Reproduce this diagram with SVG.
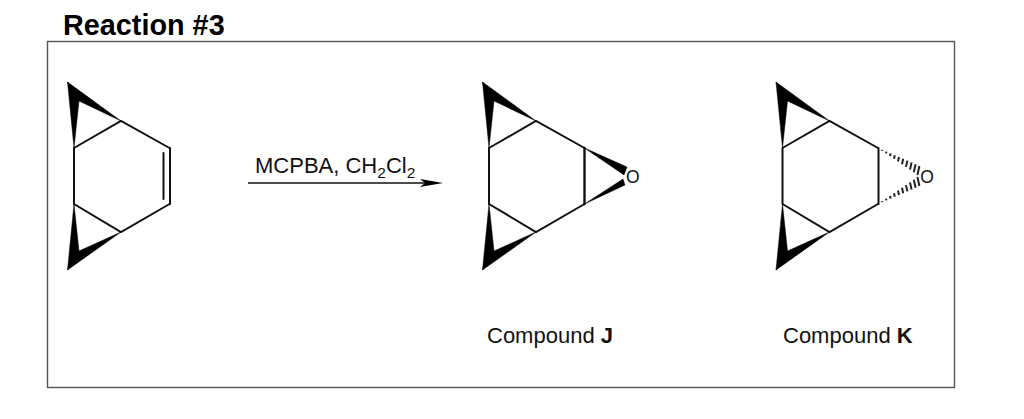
<svg xmlns="http://www.w3.org/2000/svg" width="1024" height="419" viewBox="0 0 1024 419">
<style>
.t{font-family:"Liberation Sans",Arial,sans-serif;fill:#111}
.b{fill:none;stroke:#111;stroke-width:2;stroke-linecap:round;stroke-linejoin:miter}
.w{fill:#000;stroke:#000;stroke-width:.5;stroke-linejoin:round}
.h{fill:none;stroke:#222;stroke-width:2}
</style>
<defs>
<g id="core">
<path class="b" d="M6.500 66L53.500 39L102 66M102 122L53.500 150L6.500 122M6.500 66V122"/>
<path class="w" d="M0 0L53.500 39L11.500 19ZM0 0L6.500 66L11.500 19ZM0 188L53.500 150L11.500 169ZM0 188L6.500 122L11.500 169Z"/>
</g>
</defs>
<rect x="0" y="0" width="1024" height="419" fill="#fff"/>
<rect id="frame" x="47.500" y="41.500" width="907" height="346" fill="none" stroke="#555" stroke-width="1.400"/>
<text id="title" class="t" x="63" y="35" font-size="28.800" font-weight="700" style="fill:#000">Reaction #3</text>
<g id="reactant">
<use href="#core" x="67.500" y="82"/>
<path class="b" d="M170 148V204M163.500 153V199"/>
</g>
<g id="connectors">
<path d="M248 183H430" stroke="#111" stroke-width="1.600" fill="none"/>
<path d="M443 183L420 179L425 183L420 187Z" fill="#000"/>
</g>
<g id="reagent">
<text class="t" x="255" y="173" font-size="22">MCPBA, CH<tspan font-size="15.500" dy="5">2</tspan><tspan dy="-5">Cl</tspan><tspan font-size="15.500" dy="5">2</tspan></text>
</g>
<g id="compound-j">
<use href="#core" x="482.500" y="82"/>
<path class="b" d="M584.500 148V204" style="stroke-width:2.400"/>
<path class="w" d="M584.500 148L627 167L624 175ZM584.500 204L625 185L623 179Z"/>
<text class="t" x="632.700" y="183.300" font-size="17.500" text-anchor="middle">O</text>
<text class="t" x="487" y="343" font-size="22">Compound <tspan font-weight="700">J</tspan></text>
</g>
<g id="compound-k">
<use href="#core" x="776" y="82"/>
<path class="b" d="M878.500 148V204"/>
<path class="h" d="M882.200 149.800L882 150.700M886.400 151.600L886 153.400M890.600 153.400L890 156.100M894.800 155.200L894 158.800M899 157L898 161.500M903.200 158.800L902 164.200M907.400 160.600L906 166.900M911.600 162.400L910 169.600M915.600 164.200L913.800 172.300M919.400 166L917.400 175"/>
<path class="h" d="M882.200 202.200L882 201.300M886.400 200.400L886 198.600M890.600 198.600L890 195.900M894.800 196.800L894 193.200M899 195L898 190.500M903.200 193.200L902 187.800M907.400 191.400L906 185.100M911.600 189.600L910 182.400M915.600 187.800L913.800 179.700M919.400 186L917.400 177"/>
<text class="t" x="927" y="183.300" font-size="17.500" text-anchor="middle">O</text>
<text class="t" x="783" y="343" font-size="22">Compound <tspan font-weight="700">K</tspan></text>
</g>
</svg>
